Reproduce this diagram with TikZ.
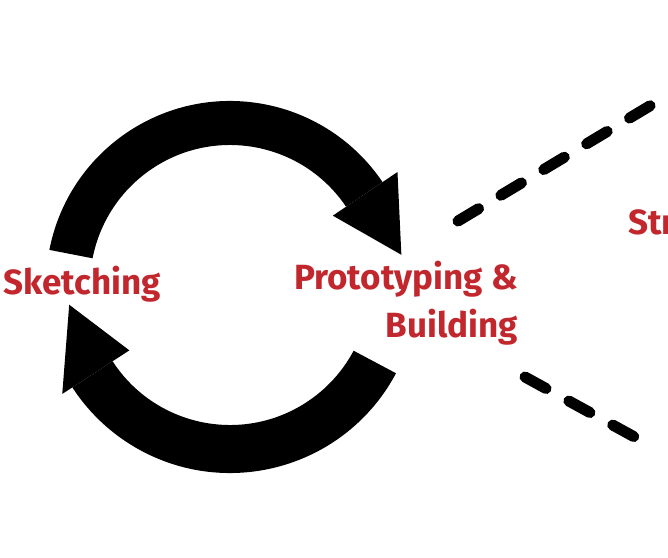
\documentclass[tikz,border=0pt]{standalone}
\usepackage{fontspec}
\setmainfont{Fira Sans}
\usetikzlibrary{calc}
\definecolor{txtred}{HTML}{C1272D}
\begin{document}
\begin{tikzpicture}[x=1pt,y=1pt,
  lab/.style={text=txtred,font=\fontsize{35}{48}\selectfont\bfseries},
  dsh/.style={line width=11pt,line cap=round,dash pattern=on 24pt off 26pt}]
\useasboundingbox (0,0) rectangle (668,557);
\clip (0,0) rectangle (668,557);
\coordinate (c) at (230,272);
% top arc
\fill (c) ++(169:184) arc[start angle=169,end angle=34,radius=184]
  -- ($(c)+(34:140)$) arc[start angle=34,end angle=169,radius=140] -- cycle;
\fill ($(c)+(34:124)$) -- ($(c)+(34:202)$) -- ($(c)+(10:174)$) -- cycle;
% bottom arc
\fill (c) ++(-28:188) arc[start angle=-28,end angle=-147,radius=188]
  -- ($(c)+(-147:140)$) arc[start angle=-147,end angle=-28,radius=140] -- cycle;
\fill ($(c)+(-147:120)$) -- ($(c)+(-147:200)$) -- ($(c)+(-173:162)$) -- cycle;
% labels
\node[lab,anchor=west,inner sep=0pt] (sk) at (3,273) {Sketching};
\node[lab,anchor=north east,align=right,inner sep=0pt] (pb) at (518,296) {Prototyping \&\\Building};
\node[lab,anchor=west,inner sep=0pt] (st) at (628,335) {Str};
% dashed lines
\coordinate (a1) at (458,336);
\coordinate (a2) at (668,462);
\coordinate (b1) at (525,180);
\coordinate (b2) at (640,117);
\draw[dsh] (a1) -- (a2);
\draw[dsh] (b1) -- (b2);
\end{tikzpicture}
\end{document}
